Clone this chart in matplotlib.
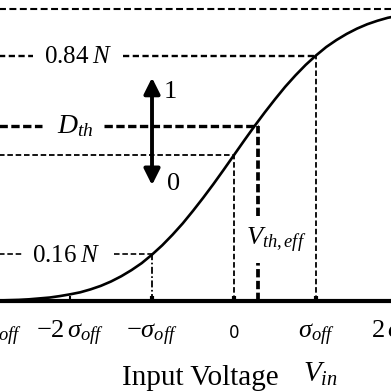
import matplotlib.pyplot as plt

plt.rcParams['font.family'] = ['Liberation Serif', 'DejaVu Serif']
plt.rcParams['mathtext.fontset'] = 'custom'
plt.rcParams['mathtext.rm'] = 'Liberation Serif'
plt.rcParams['mathtext.it'] = 'Liberation Serif:italic'
plt.rcParams['lines.scale_dashes'] = False

# curve (input in units of sigma_off, output as fraction of N)
v_in = [-2.875, -2.75, -2.625, -2.5, -2.375, -2.25, -2.125, -2.0, -1.875, -1.75,
        -1.625, -1.5, -1.375, -1.25, -1.125, -1.0, -0.875, -0.75, -0.625, -0.5,
        -0.375, -0.25, -0.125, 0.0, 0.125, 0.25, 0.375, 0.5, 0.625, 0.75,
        0.875, 1.0, 1.125, 1.25, 1.375, 1.5, 1.625, 1.75, 1.875, 2.0]
n_out = [0.002, 0.003, 0.004, 0.006, 0.009, 0.012, 0.017, 0.023, 0.030, 0.040,
         0.052, 0.067, 0.085, 0.106, 0.130, 0.159, 0.191, 0.227, 0.266, 0.309,
         0.354, 0.401, 0.450, 0.500, 0.550, 0.599, 0.646, 0.691, 0.734, 0.773,
         0.809, 0.841, 0.870, 0.894, 0.915, 0.933, 0.948, 0.960, 0.970, 0.977]

tick_pos = [-3, -2, -1, 0, 1, 2]
tick_labels = [r'$-3\,\sigma_{off}$', r'$-2\,\sigma_{off}$', r'$-\sigma_{off}$',
               '0', r'$\sigma_{off}$', r'$2\,\sigma_{off}$']

level_top = 1.0
level_hi = 0.84
level_mid = 0.5
level_lo = 0.16
d_th = 0.60
v_th_eff = 0.29

fig = plt.figure(figsize=(3.91, 3.91), dpi=100)
ax = fig.add_axes([0, 0, 1, 1])
ax.set_xlim(-2.854, 1.915)
ax.set_ylim(-0.308, 1.031)
ax.axis('off')

# horizontal axis and ticks
ax.axhline(0, color='black', lw=3)
for t in tick_pos[1:5]:
    w = 1.5 if t == -2 else 3.0
    ax.plot([t, t], [0, 0.018], color='black', lw=w, solid_capstyle='butt')

# guide lines
ax.plot([-3, 2], [level_top, level_top], color='black', lw=1.5, dashes=(5, 2.5))
ax.plot([-3, -2.45], [level_hi, level_hi], color='black', lw=1.7, dashes=(4.5, 2.5))
ax.plot([-1.35, 1], [level_hi, level_hi], color='black', lw=1.7, dashes=(4.5, 2.5))
ax.plot([1, 1], [0, level_hi], color='black', lw=1.3, dashes=(4, 2))
ax.plot([-3, -2.34], [d_th, d_th], color='black', lw=2.4, dashes=(6, 2.5))
ax.plot([-1.58, v_th_eff], [d_th, d_th], color='black', lw=2.4, dashes=(6, 2.5))
ax.plot([v_th_eff, v_th_eff], [0.29, d_th], color='black', lw=2.7, dashes=(6, 2.5))
ax.plot([v_th_eff, v_th_eff], [0, 0.13], color='black', lw=2.7, dashes=(6, 2.5))
ax.plot([-3, 0], [level_mid, level_mid], color='black', lw=1.3, dashes=(4, 2))
ax.plot([0, 0], [0, level_mid], color='black', lw=1.3, dashes=(4, 2))
ax.plot([-3, -2.58], [level_lo, level_lo], color='black', lw=1.2, dashes=(4, 2))
ax.plot([-1.46, -1], [level_lo, level_lo], color='black', lw=1.2, dashes=(4, 2))
ax.plot([-1, -1], [0, level_lo], color='black', lw=1.3, dashes=(5, 1.8, 1.2, 1.8))

# curve
ax.plot(v_in, n_out, color='black', lw=1.9)

# double arrow
ax.annotate('', xy=(-1, 0.765), xytext=(-1, 0.397),
            arrowprops=dict(arrowstyle='<|-|>', color='black', lw=2.8,
                            mutation_scale=24, shrinkA=0, shrinkB=0))
ax.text(-0.78, 0.695, '1', fontsize=19, ha='center', va='baseline')
ax.text(-0.74, 0.38, '0', fontsize=19, ha='center', va='baseline')

# level labels
ax.text(-1.90, 0.815, r'$0.84\;N$', fontsize=18, ha='center', va='baseline')
ax.text(-1.94, 0.575, r'$D_{th}$', fontsize=20, ha='center', va='baseline')
ax.text(-2.04, 0.134, r'$0.16\;N$', fontsize=18, ha='center', va='baseline')
ax.text(0.52, 0.192, r'$V_{th,eff}$', fontsize=19, ha='center', va='baseline')

# tick labels
for t, lab in zip(tick_pos, tick_labels):
    if lab == '0':
        ax.text(t, -0.127, lab, fontsize=12, ha='center', va='baseline',
                family='DejaVu Sans')
    else:
        ax.text(t, -0.127, lab, fontsize=19, ha='center', va='baseline')

ax.text(-0.41, -0.288, 'Input Voltage', fontsize=21, ha='center', va='baseline')
ax.text(1.05, -0.277, r'$V_{in}$', fontsize=21, ha='center', va='baseline')

fig.savefig('out.png', dpi=100)
